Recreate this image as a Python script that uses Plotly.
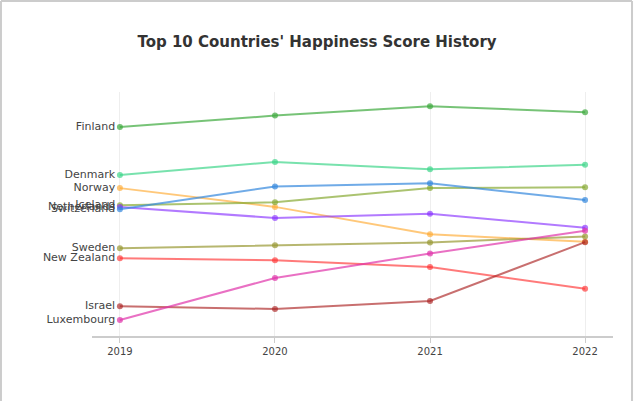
import plotly.graph_objects as go

years = [2019, 2020, 2021, 2022]
countries = ["Finland", "Denmark", "Norway", "Iceland", "Netherlands",
             "Switzerland", "Sweden", "New Zealand", "Israel", "Luxembourg"]
scores = {
    "Finland":     [7.769, 7.809, 7.842, 7.821],
    "Denmark":     [7.600, 7.646, 7.620, 7.636],
    "Norway":      [7.554, 7.488, 7.392, 7.365],
    "Iceland":     [7.494, 7.504, 7.554, 7.557],
    "Netherlands": [7.488, 7.449, 7.464, 7.415],
    "Switzerland": [7.480, 7.560, 7.571, 7.512],
    "Sweden":      [7.343, 7.353, 7.363, 7.384],
    "New Zealand": [7.307, 7.300, 7.277, 7.200],
    "Israel":      [7.139, 7.129, 7.157, 7.364],
    "Luxembourg":  [7.090, 7.238, 7.324, 7.404],
}
colors = {
    "Finland": "rgba(61,170,61,0.7)",
    "Denmark": "rgba(63,214,138,0.7)",
    "Norway": "rgba(255,170,51,0.65)",
    "Iceland": "rgba(136,170,51,0.7)",
    "Netherlands": "rgba(136,51,255,0.65)",
    "Switzerland": "rgba(51,136,221,0.7)",
    "Sweden": "rgba(153,153,51,0.7)",
    "New Zealand": "rgba(255,51,51,0.65)",
    "Israel": "rgba(170,34,34,0.65)",
    "Luxembourg": "rgba(224,51,170,0.7)",
}

fig = go.Figure()
for c in countries:
    fig.add_trace(go.Scatter(
        x=years, y=scores[c], mode="lines+markers+text",
        name=c,
        text=[c, "", "", ""],
        textposition="middle left",
        textfont=dict(family="DejaVu Sans", size=11, color="#444"),
        line=dict(color=colors[c], width=2),
        marker=dict(color=colors[c], size=6),
        cliponaxis=False,
        showlegend=False,
    ))

# page border
for (x0, y0, x1, y1) in [(-0.1747, 1.373, 1.0365, 1.373),
                         (-0.1747, 1.373, -0.1747, -0.3),
                         (1.0365, 1.373, 1.0365, -0.3)]:
    fig.add_shape(type="line", xref="paper", yref="paper",
                  x0=x0, y0=y0, x1=x1, y1=y1,
                  line=dict(color="#cccccc", width=2))

fig.update_layout(
    width=634, height=401,
    margin=dict(l=92, r=21, t=92, b=65),
    paper_bgcolor="white", plot_bgcolor="white",
    title=dict(text="<b>Top 10 Countries' Happiness Score History</b>",
               x=0.5, xref="container", xanchor="center",
               y=0.895, yanchor="middle",
               font=dict(family="DejaVu Sans", size=15, color="#333")),
    font=dict(family="DejaVu Sans", color="#444"),
)
fig.update_xaxes(range=[2018.82, 2022.18], tickvals=years,
                 showgrid=True, gridcolor="#eeeeee",
                 showline=True, linecolor="#cccccc", linewidth=2,
                 ticks="outside", ticklen=5, tickcolor="#cccccc",
                 tickfont=dict(size=10, color="#444"), zeroline=False)
fig.update_yaxes(range=[7.034, 7.892], showticklabels=False,
                 showgrid=False, zeroline=False, showline=False)

fig.write_html("out.html")
